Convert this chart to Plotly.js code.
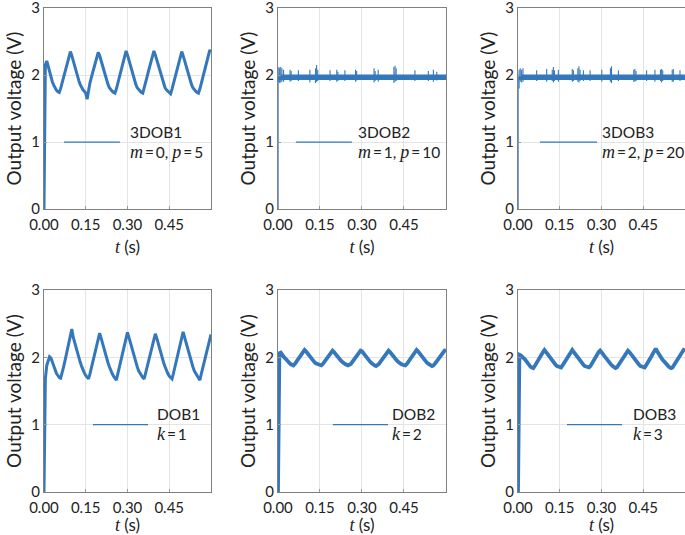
<!DOCTYPE html>
<html>
<head>
<meta charset="utf-8">
<script src="https://cdn.plot.ly/plotly-3.0.1.min.js"></script>
<style>html,body{margin:0;padding:0;background:#fff;}#chart{width:685px;height:535px;}</style>
</head>
<body>
<div id="chart"></div>
<script>
// ---- time grid for the oscillating responses (s) ----
const tSaw = [0, 0.001, 0.002, 0.003, 0.004,
  0.005, 0.010, 0.015, 0.020, 0.025, 0.030, 0.035, 0.040, 0.045, 0.050,
  0.055, 0.060, 0.065, 0.070, 0.075, 0.080, 0.085, 0.090, 0.095, 0.100,
  0.105, 0.110, 0.115, 0.120, 0.125, 0.130, 0.135, 0.140, 0.145, 0.150,
  0.155, 0.160, 0.165, 0.170, 0.175, 0.180, 0.185, 0.190, 0.195, 0.200,
  0.205, 0.210, 0.215, 0.220, 0.225, 0.230, 0.235, 0.240, 0.245, 0.250,
  0.255, 0.260, 0.265, 0.270, 0.275, 0.280, 0.285, 0.290, 0.295, 0.300,
  0.305, 0.310, 0.315, 0.320, 0.325, 0.330, 0.335, 0.340, 0.345, 0.350,
  0.355, 0.360, 0.365, 0.370, 0.375, 0.380, 0.385, 0.390, 0.395, 0.400,
  0.405, 0.410, 0.415, 0.420, 0.425, 0.430, 0.435, 0.440, 0.445, 0.450,
  0.455, 0.460, 0.465, 0.470, 0.475, 0.480, 0.485, 0.490, 0.495, 0.500,
  0.505, 0.510, 0.515, 0.520, 0.525, 0.530, 0.535, 0.540, 0.545, 0.550,
  0.555, 0.560, 0.565, 0.570, 0.575, 0.580, 0.585, 0.590, 0.595, 0.600];

// 3DOB1 (m=0, p=5)
const v3DOB1 = [0, 0.9, 1.6, 1.95, 2.08,
  2.15, 2.21, 2.12, 2.04, 1.97, 1.90, 1.85, 1.80, 1.77, 1.75,
  1.74, 1.80, 1.88, 1.97, 2.05, 2.13, 2.21, 2.28, 2.35, 2.29,
  2.21, 2.14, 2.06, 1.99, 1.92, 1.86, 1.81, 1.78, 1.76, 1.73,
  1.64, 1.79, 1.88, 1.96, 2.04, 2.12, 2.20, 2.27, 2.34, 2.29,
  2.22, 2.13, 2.06, 1.98, 1.92, 1.86, 1.81, 1.78, 1.76, 1.74,
  1.73, 1.79, 1.87, 1.96, 2.04, 2.12, 2.20, 2.28, 2.36, 2.30,
  2.22, 2.14, 2.06, 1.99, 1.92, 1.86, 1.81, 1.78, 1.76, 1.74,
  1.73, 1.80, 1.88, 1.97, 2.05, 2.13, 2.21, 2.28, 2.36, 2.30,
  2.23, 2.14, 2.06, 1.99, 1.92, 1.86, 1.81, 1.78, 1.76, 1.74,
  1.72, 1.79, 1.87, 1.96, 2.04, 2.12, 2.20, 2.28, 2.35, 2.29,
  2.22, 2.14, 2.06, 1.98, 1.92, 1.86, 1.81, 1.78, 1.76, 1.74,
  1.73, 1.79, 1.87, 1.96, 2.04, 2.12, 2.20, 2.28, 2.36, 2.37];

// DOB1 (k=1)
const vDOB1 = [0, 0.55, 1.0, 1.35, 1.55,
  1.68, 1.88, 1.97, 2.01, 1.99, 1.93, 1.86, 1.80, 1.76, 1.73,
  1.70, 1.69, 1.76, 1.85, 1.94, 2.03, 2.12, 2.21, 2.29, 2.42,
  2.30, 2.22, 2.15, 2.07, 2.00, 1.93, 1.87, 1.81, 1.77, 1.73,
  1.70, 1.68, 1.75, 1.84, 1.93, 2.02, 2.11, 2.20, 2.28, 2.36,
  2.29, 2.21, 2.14, 2.06, 1.99, 1.92, 1.86, 1.80, 1.76, 1.72,
  1.69, 1.66, 1.75, 1.84, 1.93, 2.02, 2.11, 2.20, 2.28, 2.37,
  2.30, 2.22, 2.14, 2.06, 1.99, 1.92, 1.86, 1.80, 1.76, 1.72,
  1.70, 1.68, 1.76, 1.85, 1.94, 2.03, 2.12, 2.20, 2.28, 2.35,
  2.29, 2.21, 2.14, 2.06, 1.99, 1.92, 1.86, 1.80, 1.76, 1.72,
  1.70, 1.68, 1.76, 1.85, 1.94, 2.03, 2.12, 2.21, 2.29, 2.38,
  2.30, 2.22, 2.14, 2.06, 1.99, 1.92, 1.86, 1.80, 1.76, 1.72,
  1.69, 1.66, 1.75, 1.84, 1.93, 2.02, 2.11, 2.20, 2.28, 2.34];

// DOB2 (k=2)
const vDOB2 = [0, 1.0, 1.7, 1.95, 2.03,
  2.06, 2.07, 2.03, 2.01, 1.99, 1.96, 1.94, 1.92, 1.90, 1.89,
  1.88, 1.90, 1.93, 1.96, 1.99, 2.02, 2.05, 2.08, 2.11, 2.09,
  2.06, 2.03, 2.00, 1.97, 1.95, 1.93, 1.91, 1.90, 1.89, 1.88,
  1.88, 1.90, 1.93, 1.96, 1.99, 2.02, 2.05, 2.08, 2.10, 2.08,
  2.05, 2.02, 2.00, 1.97, 1.95, 1.93, 1.91, 1.90, 1.89, 1.88,
  1.89, 1.90, 1.93, 1.96, 1.99, 2.02, 2.05, 2.08, 2.10, 2.09,
  2.06, 2.03, 2.00, 1.97, 1.95, 1.93, 1.91, 1.89, 1.88, 1.87,
  1.88, 1.90, 1.93, 1.96, 1.99, 2.02, 2.05, 2.08, 2.10, 2.08,
  2.05, 2.02, 2.00, 1.97, 1.95, 1.93, 1.91, 1.90, 1.89, 1.88,
  1.88, 1.90, 1.93, 1.96, 1.99, 2.02, 2.05, 2.08, 2.11, 2.09,
  2.06, 2.03, 2.00, 1.97, 1.95, 1.93, 1.91, 1.90, 1.88, 1.87,
  1.88, 1.90, 1.93, 1.96, 1.99, 2.02, 2.05, 2.08, 2.10, 2.11];

// DOB3 (k=3)
const vDOB3 = [0, 0.9, 1.6, 1.9, 2.0,
  2.04, 2.03, 2.00, 1.99, 1.97, 1.94, 1.91, 1.88, 1.86, 1.85,
  1.84, 1.87, 1.91, 1.95, 1.98, 2.02, 2.05, 2.08, 2.11, 2.08,
  2.05, 2.02, 1.99, 1.96, 1.94, 1.91, 1.89, 1.87, 1.86, 1.85,
  1.85, 1.88, 1.91, 1.95, 1.98, 2.02, 2.05, 2.08, 2.11, 2.08,
  2.05, 2.02, 1.99, 1.96, 1.94, 1.91, 1.89, 1.87, 1.86, 1.85,
  1.85, 1.87, 1.91, 1.95, 1.98, 2.02, 2.05, 2.08, 2.10, 2.08,
  2.05, 2.02, 1.99, 1.96, 1.94, 1.91, 1.89, 1.87, 1.85, 1.84,
  1.85, 1.88, 1.91, 1.95, 1.98, 2.02, 2.05, 2.08, 2.10, 2.08,
  2.05, 2.02, 1.99, 1.96, 1.94, 1.91, 1.89, 1.87, 1.86, 1.85,
  1.85, 1.88, 1.91, 1.95, 1.98, 2.02, 2.06, 2.09, 2.13, 2.09,
  2.05, 2.02, 1.99, 1.96, 1.94, 1.91, 1.89, 1.87, 1.85, 1.84,
  1.85, 1.88, 1.91, 1.95, 1.98, 2.02, 2.05, 2.08, 2.11, 2.10];

// 3DOB2 (m=1, p=10): steady band plus spikes
const tBand3DOB2 = [0.002, 0.600];
const vBand3DOB2 = [1.965, 1.965];
const tSpk3DOB2 = [0.0005, 0.003, 0.006, 0.010, 0.014, 0.020, 0.043, 0.047, 0.073, 0.114,
  0.134, 0.138, 0.142, 0.186, 0.210, 0.214, 0.239, 0.277, 0.281, 0.343,
  0.347, 0.358, 0.414, 0.418, 0.422, 0.489, 0.537, 0.555, 0.567];
const hiSpk3DOB2 = [1.97, 2.12, 2.10, 2.12, 2.10, 2.08, 2.08, 2.06, 2.07, 2.08,
  2.10, 2.15, 2.08, 2.07, 2.08, 2.05, 2.07, 2.08, 2.06, 2.10,
  2.06, 2.08, 2.12, 2.14, 2.10, 2.07, 2.06, 2.08, 2.05];
const loSpk3DOB2 = [0, 1.90, 1.88, 1.89, 1.90, 1.90, 1.90, 1.91, 1.91, 1.89,
  1.88, 1.90, 1.91, 1.91, 1.90, 1.91, 1.91, 1.90, 1.92, 1.89,
  1.91, 1.90, 1.88, 1.90, 1.91, 1.91, 1.91, 1.90, 1.92];

// 3DOB3 (m=2, p=20): steady band plus spikes
const tBand3DOB3 = [0.002, 0.600];
const vBand3DOB3 = [1.965, 1.965];
const tSpk3DOB3 = [0.0005, 0.004, 0.008, 0.013, 0.018, 0.067, 0.103, 0.123, 0.127, 0.131,
  0.145, 0.195, 0.199, 0.215, 0.219, 0.223, 0.235, 0.259, 0.301, 0.332,
  0.336, 0.361, 0.416, 0.420, 0.424, 0.462, 0.492, 0.512, 0.516, 0.520,
  0.554, 0.558, 0.582];
const hiSpk3DOB3 = [1.97, 2.08, 2.10, 2.08, 2.10, 2.07, 2.09, 2.08, 2.12, 2.07,
  2.08, 2.09, 2.07, 2.10, 2.13, 2.08, 2.07, 2.07, 2.08, 2.10,
  2.13, 2.07, 2.08, 2.09, 2.06, 2.07, 2.08, 2.08, 2.09, 2.07,
  2.08, 2.09, 2.07];
const loSpk3DOB3 = [0, 1.80, 1.90, 1.89, 1.90, 1.91, 1.90, 1.91, 1.89, 1.91,
  1.90, 1.90, 1.91, 1.90, 1.89, 1.91, 1.91, 1.91, 1.90, 1.90,
  1.88, 1.91, 1.90, 1.90, 1.91, 1.91, 1.90, 1.91, 1.89, 1.91,
  1.90, 1.90, 1.91];

// ---- labels ----
const legendNames = ['3DOB1', '3DOB2', '3DOB3', 'DOB1', 'DOB2', 'DOB3'];
const legendParams = [
  [['m', '0'], ['p', '5']],
  [['m', '1'], ['p', '10']],
  [['m', '2'], ['p', '20']],
  [['k', '1']], [['k', '2']], [['k', '3']]];
const xTickVals = [0, 0.15, 0.30, 0.45];
const xTickText = ['0.00', '0.15', '0.30', '0.45'];
const yTickVals = [0, 1, 2, 3];
const yTickText = ['0', '1', '2', '3'];
const yTitle = 'Output voltage (V)';

// ---- styling ----
const BLUE = '#3478bb';
const FONT = 'Lato, "Open Sans", sans-serif';
const SERIF = 'Liberation Serif';
function it(s, size) {
  return '<span style="font-family:' + SERIF + ';font-size:' + size + 'px"><i>' + s + '</i></span>';
}
const xTitle = it('t', 18) + ' (s)';
const colDom = [[0.0642, 0.3080], [0.4058, 0.6511], [0.7562, 1.0]];
const rowDom = [[0.6093, 0.9850], [0.0804, 0.4579]];
// legend sample positions, in data units of each panel: [lineStart, lineEnd, textX]
const legPos = [[0.072, 0.273, 0.303], [0.064, 0.264, 0.280], [0.079, 0.284, 0.293],
                [0.176, 0.374, 0.400], [0.196, 0.393, 0.401], [0.176, 0.374, 0.407]];

function spikes(t, hi, lo) {
  const x = [], y = [];
  t.forEach((tt, i) => { x.push(tt, tt, null); y.push(hi[i], lo[i], null); });
  return {x, y};
}

const traces = [];
function ax(i) { return i === 0 ? '' : String(i + 1); }

traces.push({x: tSaw, y: v3DOB1, xaxis: 'x', yaxis: 'y', mode: 'lines',
  line: {color: BLUE, width: 3.0}, name: '3DOB1'});
traces.push({x: tBand3DOB2, y: vBand3DOB2, xaxis: 'x2', yaxis: 'y2', mode: 'lines',
  line: {color: BLUE, width: 5.5}, name: '3DOB2'});
const s2 = spikes(tSpk3DOB2, hiSpk3DOB2, loSpk3DOB2);
traces.push({x: s2.x, y: s2.y, xaxis: 'x2', yaxis: 'y2', mode: 'lines',
  line: {color: BLUE, width: 1.1}, name: '3DOB2', connectgaps: false});
traces.push({x: tBand3DOB3, y: vBand3DOB3, xaxis: 'x3', yaxis: 'y3', mode: 'lines',
  line: {color: BLUE, width: 5.5}, name: '3DOB3'});
const s3 = spikes(tSpk3DOB3, hiSpk3DOB3, loSpk3DOB3);
traces.push({x: s3.x, y: s3.y, xaxis: 'x3', yaxis: 'y3', mode: 'lines',
  line: {color: BLUE, width: 1.1}, name: '3DOB3', connectgaps: false});
traces.push({x: tSaw, y: vDOB1, xaxis: 'x4', yaxis: 'y4', mode: 'lines',
  line: {color: BLUE, width: 3.0}, name: 'DOB1'});
traces.push({x: tSaw, y: vDOB2, xaxis: 'x5', yaxis: 'y5', mode: 'lines',
  line: {color: BLUE, width: 3.8}, name: 'DOB2'});
traces.push({x: tSaw, y: vDOB3, xaxis: 'x6', yaxis: 'y6', mode: 'lines',
  line: {color: BLUE, width: 3.8}, name: 'DOB3'});

const layout = {
  width: 685, height: 535,
  margin: {l: 0, r: 0, t: 0, b: 0, pad: 0},
  paper_bgcolor: '#ffffff', plot_bgcolor: '#ffffff',
  showlegend: false,
  font: {family: FONT, size: 15, color: '#222222'},
  shapes: [], annotations: []
};

for (let i = 0; i < 6; i++) {
  const r = Math.floor(i / 3), c = i % 3;
  const s = ax(i);
  layout['xaxis' + s] = {
    domain: colDom[c], anchor: 'y' + s, range: [0, 0.6],
    tickmode: 'array', tickvals: xTickVals, ticktext: xTickText,
    ticks: 'inside', ticklen: 3, tickcolor: '#9a9a9a',
    showgrid: true, gridcolor: '#e4e4e4', gridwidth: 1, zeroline: false,
    showline: true, mirror: true, linecolor: '#808080', linewidth: 1,
    ticklabeloverflow: 'allow', ticklabelstandoff: 2,
    tickfont: {family: FONT, size: 15, color: '#222222'},
    title: {text: xTitle, font: {family: FONT, size: 17, color: '#222222'}, standoff: 9},
    fixedrange: true
  };
  layout['yaxis' + s] = {
    domain: rowDom[r], anchor: 'x' + s, range: [0, 3],
    tickmode: 'array', tickvals: yTickVals, ticktext: yTickText,
    ticks: 'inside', ticklen: 3, tickcolor: '#9a9a9a',
    showgrid: true, gridcolor: '#e4e4e4', gridwidth: 1, zeroline: false,
    showline: true, mirror: true, linecolor: '#808080', linewidth: 1,
    ticklabeloverflow: 'allow',
    tickfont: {family: FONT, size: 15, color: '#222222'},
    title: {text: yTitle, font: {family: FONT, size: 19, color: '#222222'}, standoff: 4},
    fixedrange: true
  };
  const p = legPos[i];
  layout.shapes.push({type: 'line', xref: 'x' + s, yref: 'y' + s,
    x0: p[0], x1: p[1], y0: 1, y1: 1, line: {color: BLUE, width: 1.2}});
  const params = legendParams[i].map(q => it(q[0], 18) + '\u2009=\u2009' + q[1]).join(', ');
  layout.annotations.push({xref: 'x' + s, yref: 'y' + s, x: p[2], y: 1,
    xanchor: 'left', yanchor: 'middle', align: 'left', showarrow: false,
    text: legendNames[i] + '<br>' + params,
    font: {family: FONT, size: 15.5, color: '#222222'}});
}

Plotly.newPlot('chart', traces, layout, {displayModeBar: false, staticPlot: true});
</script>
</body>
</html>
